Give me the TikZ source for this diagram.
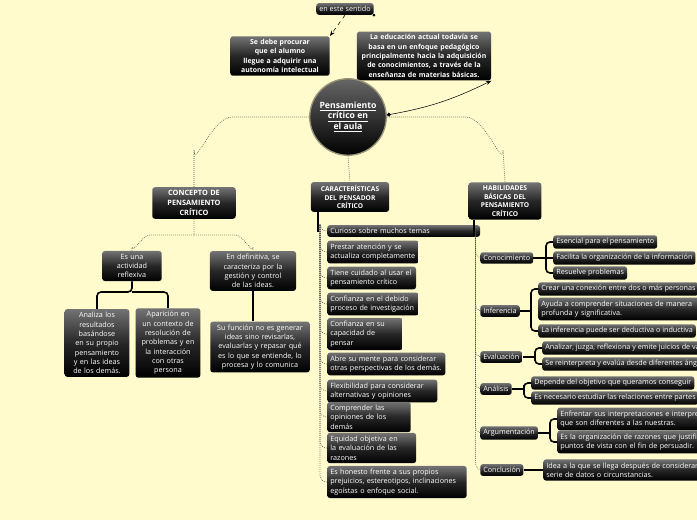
\documentclass[tikz,border=0pt]{standalone}
\usepackage{fontspec}
\setmainfont{Open Sans}
\usetikzlibrary{arrows.meta}
\definecolor{paper}{HTML}{FFFBCC}
\newcommand{\nohy}{\hyphenpenalty=10000\exhyphenpenalty=10000}
\tikzset{
  box/.style={rounded corners=2pt, top color=black!55, bottom color=black, middle color=black!85,
    text=white, inner sep=2.3pt, align=center, font=\fontsize{5.4}{7}\selectfont\nohy},
  leaf/.style={box, align=left, anchor=west},
  head/.style={box, font=\fontsize{5.5}{7.5}\selectfont\bfseries\nohy},
  dot/.style={densely dotted, gray!60!black, line width=0.5pt},
  bar/.style={line width=1.2pt, rounded corners=3pt},
}
\begin{document}
\begin{tikzpicture}[x=0.75pt,y=0.75pt,yscale=-1]
\fill[paper] (0,0) rectangle (697,520);
\clip (0,0) rectangle (697,520);
\useasboundingbox (0,0) rectangle (697,520);

% top notes
\node[box] (sentido) at (345,9) {en este sentido};
\node[box, text width=70pt, font=\fontsize{5.2}{7}\selectfont\bfseries\nohy] (autonomia) at (280,56) {Se debe procurar que el alumno llegue a adquirir una autonomía intelectual};
\node[box, text width=96pt, font=\fontsize{5.2}{7}\selectfont\bfseries\nohy] (educacion) at (424,56) {La educación actual todavía se basa en un enfoque pedagógico principalmente hacia la adquisición de conocimientos, a través de la enseñanza de materias básicas.};
\node[circle, minimum size=55pt, top color=black!60, bottom color=black, draw=paper!60!black, line width=1pt,
  text=white, align=center, font=\fontsize{6.5}{8}\selectfont\bfseries] (centro) at (348,117)
  {\underline{Pensamiento}\\\underline{crítico en}\\\underline{el aula}};

\draw[dashed, -{Stealth[length=4pt]}] (sentido.south) -- (autonomia.north east);
\draw[{Circle[length=3pt]}-{Stealth[length=4pt]}] (centro.east) ++(0,-2) coordinate (c0) (c0) to[bend left=8] (educacion.south east);
\fill (sentido.south east) circle (1.5);

% main branches
\node[head, text width=58pt] (concepto) at (194,203) {CONCEPTO DE PENSAMIENTO CRÍTICO};
\node[head, text width=54pt, font=\fontsize{5}{6.5}\selectfont\bfseries\nohy] (caract) at (350,197) {CARACTERÍSTICAS DEL PENSADOR CRÍTICO};
\node[head, text width=50pt, font=\fontsize{5}{6.5}\selectfont\bfseries\nohy] (habil) at (505,201) {HABILIDADES BÁSICAS DEL PENSAMIENTO CRÍTICO};

\draw[dot] (centro.west) -- (232,117) to[out=180,in=90] (194,150) -- (concepto.north);
\draw[dot] (centro.east) -- (466,117) to[out=0,in=90] (503,150) -- (habil.north);
\draw[dot] (centro.south) -- (caract.north);

% concepto
\node[box, text width=40pt] (actividad) at (132,266) {Es una actividad reflexiva};
\node[box, text width=60pt] (gestion) at (253,271) {En definitiva, se caracteriza por la gestión y control de las ideas.};
\node[box, text width=44pt] (analiza) at (97,343) {Analiza los resultados basándose en su propio pensamiento y en las ideas de los demás.};
\node[box, text width=44pt] (aparicion) at (168,343) {Aparición en un contexto de resolución de problemas y en la interacción con otras persona};
\node[box, text width=70pt] (funcion) at (260,347) {Su función no es generar ideas sino revisarlas, evaluarlas y repasar qué es lo que se entiende, lo procesa y lo comunica};

\draw[dot] (concepto.south) -- (194,235) -- (150,235) to[out=180,in=90] (132,247) -- (actividad.north);
\draw[dot] (194,235) -- (235,235) to[out=0,in=90] (253,247) -- (gestion.north);
\draw[bar] (actividad.south) -- (132,292) -| (analiza.north);
\draw[bar] (132,292) -| (aparicion.north);
\draw[bar] (gestion.south) -- (gestion.south |- funcion.north);

% caracteristicas
\draw[line width=1pt] (318,212) -- (318,232);
\foreach \y/\w/\t [count=\i] in {
  231/110pt/{Curioso sobre muchos temas},
  252/64pt/{Prestar atención y se actualiza completamente},
  278/62pt/{Tiene cuidado al usar el pensamiento crítico},
  304/64pt/{Confianza en el debido proceso de investigación},
  334/52pt/{Confianza en su capacidad de pensar},
  364/84pt/{Abre su mente para considerar otras perspectivas de los demás.},
  391/78pt/{Flexibilidad para considerar alternativas y opiniones},
  417/58pt/{Comprender las opiniones de los demás},
  448/62pt/{Equidad objetiva en la evaluación de las razones},
  482/100pt/{Es honesto frente a sus propios prejuicios, estereotipos, inclinaciones egoístas o enfoque social.}}
{
  \node[leaf, text width=\w] (c\i) at (327,\y) {\t};
  \draw[dot, rounded corners=5pt] (320,225) |- (c\i.west);
}

% habilidades
\draw[line width=1pt] (474,220) -- (474,236);
\foreach \y/\t [count=\i] in {258/Conocimiento, 311/Inferencia, 357/Evaluación, 389/Análisis, 433/Argumentación, 470/Conclusión}
{
  \node[leaf] (h\i) at (480,\y) {\t};
  \draw[dot, rounded corners=5pt] (475.5,230) |- (h\i.west);
}

\node[leaf] (h1a) at (553,242) {Esencial para el pensamiento};
\node[leaf] (h1b) at (553,258) {Facilita la organización de la información};
\node[leaf] (h1c) at (553,273) {Resuelve problemas};
\node[leaf] (h2a) at (538,289) {Crear una conexión entre dos o más personas};
\node[leaf, text width=160pt] (h2b) at (538,309) {Ayuda a comprender situaciones de manera\\profunda y significativa.};
\node[leaf] (h2c) at (538,331) {La inferencia puede ser deductiva o inductiva};
\node[leaf] (h3a) at (542,348) {Analizar, juzga, reflexiona y emite juicios de valor};
\node[leaf] (h3b) at (542,364) {Se reinterpreta y evalúa desde diferentes ángulos};
\node[leaf] (h4a) at (531,383) {Depende del objetivo que queramos conseguir};
\node[leaf] (h4b) at (531,398) {Es necesario estudiar las relaciones entre partes};
\node[leaf, text width=190pt] (h5a) at (557,419) {Enfrentar sus interpretaciones e interpretaciones\\que son diferentes a las nuestras.};
\node[leaf, text width=190pt] (h5b) at (557,442) {Es la organización de razones que justifican los\\puntos de vista con el fin de persuadir.};
\node[leaf, text width=190pt] (h6a) at (543,470) {Idea a la que se llega después de considerar una\\serie de datos o circunstancias.};

\foreach \c/\x/\a/\b in {h1/546/h1a/h1c, h2/531/h2a/h2c, h3/535/h3a/h3b, h4/524/h4a/h4b, h5/550/h5a/h5b}
{
  \draw[bar] (\c.east) -- (\x,0 |- \c.east);
  \draw[bar] (\a.west) -| (\x,0 |- \c.east) |- (\b.west);
}
\draw[bar] (h1.east) -- (h1b.west);
\draw[bar] (h6.east) -- (h6a.west);
\end{tikzpicture}
\end{document}
